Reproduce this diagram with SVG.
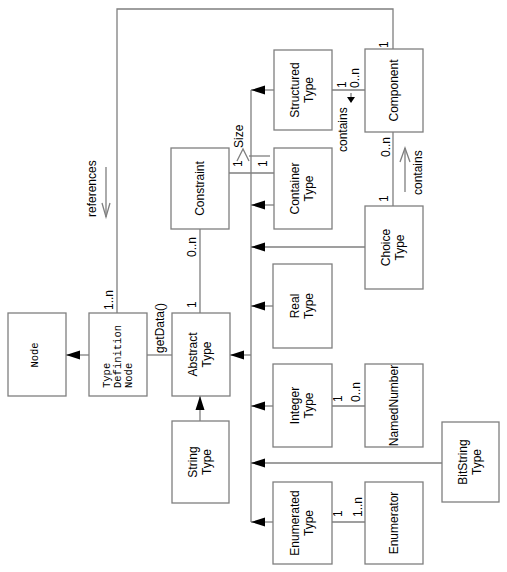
<svg xmlns="http://www.w3.org/2000/svg" width="507" height="572" viewBox="0 0 507 572">
<defs>
<style>
.box{fill:#fff;stroke:#7f7f7f;stroke-width:1.3}
.ln{fill:none;stroke:#7f7f7f;stroke-width:1.3}
.t{font-family:"Liberation Sans",Arial,sans-serif;font-size:12px;fill:#000;text-anchor:middle}
.l{font-family:"Liberation Sans",Arial,sans-serif;font-size:12px;fill:#000;text-anchor:start}
.m{font-family:"Liberation Mono","Courier New",monospace;font-size:10.5px;fill:#000}
</style>
<marker id="tri" markerWidth="14" markerHeight="10" refX="14" refY="5" orient="auto" markerUnits="userSpaceOnUse">
<path d="M0,0.5 L14,5 L0,9.5 z" fill="#000"/>
</marker>
</defs>
<rect width="507" height="572" fill="#fff"/>

<g id="connectors">
<line class="ln" x1="89" y1="355" x2="66" y2="355" marker-end="url(#tri)"/>
<line class="ln" x1="147" y1="355" x2="172" y2="355"/>
<line class="ln" x1="251" y1="355" x2="230" y2="355" marker-end="url(#tri)"/>
<line class="ln" x1="200" y1="421" x2="200" y2="396" marker-end="url(#tri)"/>
<line class="ln" x1="200" y1="229" x2="200" y2="313"/>
<line class="ln" x1="251" y1="90" x2="251" y2="522"/>
<line class="ln" x1="274" y1="90" x2="251" y2="90" marker-end="url(#tri)"/>
<line class="ln" x1="274" y1="205" x2="251" y2="205" marker-end="url(#tri)"/>
<line class="ln" x1="365" y1="247" x2="251" y2="247" marker-end="url(#tri)"/>
<line class="ln" x1="273" y1="306" x2="251" y2="306" marker-end="url(#tri)"/>
<line class="ln" x1="273" y1="406" x2="251" y2="406" marker-end="url(#tri)"/>
<line class="ln" x1="442" y1="463" x2="251" y2="463" marker-end="url(#tri)"/>
<line class="ln" x1="273" y1="522" x2="251" y2="522" marker-end="url(#tri)"/>
<line class="ln" x1="229" y1="173" x2="274" y2="173"/>
<line class="ln" x1="332" y1="90" x2="365" y2="90"/>
<line class="ln" x1="393" y1="132" x2="393" y2="206"/>
<line class="ln" x1="332" y1="406" x2="365" y2="406"/>
<line class="ln" x1="332" y1="522" x2="365" y2="522"/>
<path class="ln" d="M117,313 V9 H393 V49"/>
<!-- references arrow -->
<line class="ln" x1="106" y1="167" x2="106" y2="217"/>
<polyline class="ln" points="102,203 106,217 110,203"/>
<!-- contains arrow (right) -->
<line class="ln" x1="405" y1="192" x2="405" y2="148"/>
<polyline class="ln" points="400,162 405,148 410,162"/>
<!-- Size arrow -->
<polyline class="ln" points="237,161 243,149 249,161"/>
<line class="ln" x1="249" y1="156" x2="270" y2="156"/>
<!-- small contains arrow -->
<line class="ln" x1="351" y1="93" x2="351" y2="99"/>
<path d="M347,97 L351,103 L355,97 z" fill="#000"/>
<!-- labels -->
<text class="l" transform="translate(113,310) rotate(-90)">1..n</text>
<text class="l" transform="translate(164,353) rotate(-90)">getData()</text>
<text class="l" transform="translate(196,308) rotate(-90)">1</text>
<text class="l" transform="translate(196,257) rotate(-90)">0..n</text>
<text class="l" transform="translate(388,48) rotate(-90)">1</text>
<text class="l" transform="translate(346,88) rotate(-90)">1</text>
<text class="l" transform="translate(359,88) rotate(-90)">0..n</text>
<text class="l" transform="translate(347,152) rotate(-90)">contains</text>
<text class="l" transform="translate(390,157) rotate(-90)">0..n</text>
<text class="l" transform="translate(388,202) rotate(-90)">1</text>
<text class="l" transform="translate(422,195) rotate(-90)">contains</text>
<text class="l" transform="translate(243,148) rotate(-90)">Size</text>
<text class="l" transform="translate(242,167) rotate(-90)">1</text>
<text class="l" transform="translate(267,167) rotate(-90)">1</text>
<text class="l" transform="translate(342,402) rotate(-90)">1</text>
<text class="l" transform="translate(360,402) rotate(-90)">0..n</text>
<text class="l" transform="translate(342,517) rotate(-90)">1</text>
<text class="l" transform="translate(362,517) rotate(-90)">1..n</text>
<text class="l" transform="translate(96,217) rotate(-90)">references</text>
</g>

<g id="node">
<rect class="box" x="8" y="313" width="58" height="83"/>
<text class="m" text-anchor="middle" transform="translate(38,355) rotate(-90)">Node</text>
</g>
<g id="typedef">
<rect class="box" x="89" y="313" width="58" height="83"/>
<text class="m" transform="translate(110,388) rotate(-90)">Type</text>
<text class="m" transform="translate(121,388) rotate(-90)">Definition</text>
<text class="m" transform="translate(132,388) rotate(-90)">Node</text>
</g>
<g id="abstract">
<rect class="box" x="172" y="313" width="58" height="83"/>
<text class="t" transform="translate(197,354.5) rotate(-90)">Abstract</text>
<text class="t" transform="translate(211,354.5) rotate(-90)">Type</text>
</g>
<g id="string">
<rect class="box" x="172" y="421" width="57" height="82"/>
<text class="t" transform="translate(196.5,462) rotate(-90)">String</text>
<text class="t" transform="translate(210.5,462) rotate(-90)">Type</text>
</g>
<g id="constraint">
<rect class="box" x="171" y="148" width="58" height="81"/>
<text class="t" transform="translate(204.3,188.5) rotate(-90)">Constraint</text>
</g>
<g id="structured">
<rect class="box" x="274" y="50" width="58" height="80"/>
<text class="t" transform="translate(299,90) rotate(-90)">Structured</text>
<text class="t" transform="translate(313,90) rotate(-90)">Type</text>
</g>
<g id="container">
<rect class="box" x="274" y="148" width="58" height="81"/>
<text class="t" transform="translate(299,188.5) rotate(-90)">Container</text>
<text class="t" transform="translate(313,188.5) rotate(-90)">Type</text>
</g>
<g id="real">
<rect class="box" x="273" y="264" width="59" height="84"/>
<text class="t" transform="translate(298.5,306) rotate(-90)">Real</text>
<text class="t" transform="translate(312.5,306) rotate(-90)">Type</text>
</g>
<g id="integer">
<rect class="box" x="273" y="364" width="59" height="83"/>
<text class="t" transform="translate(298.5,405.5) rotate(-90)">Integer</text>
<text class="t" transform="translate(312.5,405.5) rotate(-90)">Type</text>
</g>
<g id="enumerated">
<rect class="box" x="273" y="482" width="59" height="82"/>
<text class="t" transform="translate(298.5,523) rotate(-90)">Enumerated</text>
<text class="t" transform="translate(312.5,523) rotate(-90)">Type</text>
</g>
<g id="component">
<rect class="box" x="365" y="49" width="58" height="83"/>
<text class="t" transform="translate(398.3,90.5) rotate(-90)">Component</text>
</g>
<g id="choice">
<rect class="box" x="365" y="206" width="58" height="83"/>
<text class="t" transform="translate(390,247.5) rotate(-90)">Choice</text>
<text class="t" transform="translate(404,247.5) rotate(-90)">Type</text>
</g>
<g id="namednumber">
<rect class="box" x="365" y="364" width="58" height="83"/>
<text class="t" transform="translate(398.3,405.5) rotate(-90)">NamedNumber</text>
</g>
<g id="enumerator">
<rect class="box" x="365" y="482" width="58" height="82"/>
<text class="t" transform="translate(398.3,523) rotate(-90)">Enumerator</text>
</g>
<g id="bitstring">
<rect class="box" x="442" y="422" width="57" height="80"/>
<text class="t" transform="translate(466.5,462) rotate(-90)">BitString</text>
<text class="t" transform="translate(480.5,462) rotate(-90)">Type</text>
</g>
</svg>
